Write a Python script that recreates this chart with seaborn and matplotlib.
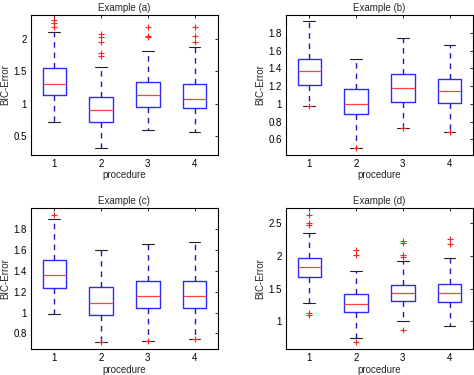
import numpy as np
import seaborn as sns
import matplotlib
matplotlib.use("Agg")
import matplotlib.pyplot as plt
from matplotlib.ticker import FuncFormatter

# box stats: one list entry per procedure 1..4
procedures = [1, 2, 3, 4]

a_lo = [0.71, 0.31, 0.59, 0.57]
a_q1 = [1.13, 0.72, 0.95, 0.94]
a_med = [1.305, 0.91, 1.13, 1.08]
a_q3 = [1.55, 1.10, 1.34, 1.31]
a_hi = [2.11, 1.56, 1.82, 1.88]
a_fliers = [[2.19, 2.25, 2.30], [1.73, 1.78, 1.96, 2.03, 2.07], [2.03, 2.05, 2.19], [1.95, 2.04, 2.19]]

b_lo = [0.97, 0.50, 0.73, 0.685]
b_q1 = [1.21, 0.885, 1.026, 1.007]
b_med = [1.37, 1.00, 1.175, 1.145]
b_q3 = [1.51, 1.17, 1.34, 1.28]
b_hi = [1.93, 1.51, 1.745, 1.66]
b_fliers = [[0.975], [0.50], [0.73], [0.685]]

c_lo = [0.99, 0.72, 0.73, 0.745]
c_q1 = [1.24, 0.98, 1.04, 1.04]
c_med = [1.36, 1.095, 1.156, 1.156]
c_q3 = [1.50, 1.244, 1.30, 1.30]
c_hi = [1.895, 1.60, 1.66, 1.68]
c_fliers = [[1.93], [0.72], [0.73], [0.745]]

d_lo = [1.28, 0.75, 1.01, 0.93]
d_q1 = [1.67, 1.14, 1.305, 1.30]
d_med = [1.83, 1.265, 1.43, 1.43]
d_q3 = [1.965, 1.42, 1.56, 1.57]
d_hi = [2.34, 1.77, 1.91, 1.97]
d_fliers = [[1.10, 1.13, 2.47, 2.50, 2.62], [0.69, 2.01, 2.085], [0.875, 1.985, 2.01, 2.19, 2.22], [2.17, 2.25]]

titles = ["Example (a)", "Example (b)", "Example (c)", "Example (d)"]
yticks = [[0.5, 1, 1.5, 2], [0.6, 0.8, 1, 1.2, 1.4, 1.6, 1.8],
          [0.8, 1, 1.2, 1.4, 1.6, 1.8], [1, 1.5, 2, 2.5]]
ylims = [(0.21, 2.37), (0.425, 2.0), (0.65, 2.0), (0.58, 2.72)]

panels = [
    (a_lo, a_q1, a_med, a_q3, a_hi, a_fliers),
    (b_lo, b_q1, b_med, b_q3, b_hi, b_fliers),
    (c_lo, c_q1, c_med, c_q3, c_hi, c_fliers),
    (d_lo, d_q1, d_med, d_q3, d_hi, d_fliers),
]

sns.set_style("white")
plt.rcParams["font.family"] = ["Liberation Sans", "DejaVu Sans"]
plt.rcParams["font.size"] = 7

fig = plt.figure(figsize=(4.74, 3.75), dpi=100)
positions = [
    [0.065, 0.587, 0.395, 0.373],
    [0.603, 0.587, 0.395, 0.373],
    [0.065, 0.069, 0.395, 0.376],
    [0.603, 0.069, 0.395, 0.376],
]

blue = "#2b2bff"
for k, (lo, q1, med, q3, hi, fl) in enumerate(panels):
    ax = fig.add_axes(positions[k])
    stats = []
    for i in range(len(procedures)):
        stats.append(dict(whislo=lo[i], q1=q1[i], med=med[i], q3=q3[i],
                          whishi=hi[i], fliers=fl[i], label=str(procedures[i])))
    ax.bxp(stats, positions=procedures, widths=0.5,
           boxprops=dict(color=blue, linewidth=1.0),
           medianprops=dict(color="#ff4040", linewidth=0.9),
           whiskerprops=dict(color="#1a1ac0", linewidth=1.0, linestyle=(0, (4, 3.5))),
           capprops=dict(color="#222222", linewidth=0.8),
           capwidths=0.25,
           flierprops=dict(marker="+", markeredgecolor="#ff2020", markersize=5,
                           markeredgewidth=0.8, linestyle="none"))
    ax.set_xlim(0.5, 4.5)
    ax.set_ylim(*ylims[k])
    ax.set_yticks(yticks[k])
    ax.yaxis.set_major_formatter(FuncFormatter(lambda v, p: "%g" % v))
    ax.set_xticks(procedures)
    ax.set_xticklabels([str(p) for p in procedures])
    ax.tick_params(direction="in", length=2.5, width=0.6, top=True, right=True,
                   labelsize=7, pad=3, colors="black")
    for s in ax.spines.values():
        s.set_visible(True)
        s.set_color("black")
        s.set_linewidth(0.8)
    ax.set_title(titles[k], fontsize=7, pad=3)
    ax.set_xlabel("procedure", fontsize=7, labelpad=1)
    ax.set_ylabel("BIC-Error", fontsize=7, labelpad=2)

fig.savefig("out.png", dpi=100)
